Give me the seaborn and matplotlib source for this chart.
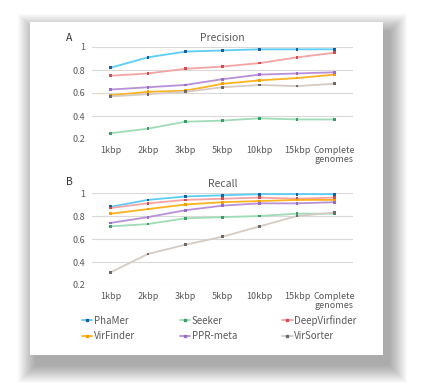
import matplotlib
matplotlib.use("Agg")
import matplotlib.pyplot as plt
from matplotlib.lines import Line2D
from matplotlib.patches import Rectangle
import pandas as pd
import seaborn as sns

# data
categories = ["1kbp", "2kbp", "3kbp", "5kbp", "10kbp", "15kbp", "Complete\ngenomes"]
tools = ["PhaMer", "Seeker", "DeepVirfinder", "VirFinder", "PPR-meta", "VirSorter"]

precision_phamer = [0.82, 0.91, 0.96, 0.97, 0.98, 0.98, 0.98]
precision_seeker = [0.25, 0.29, 0.35, 0.36, 0.38, 0.37, 0.37]
precision_deepvirfinder = [0.75, 0.77, 0.81, 0.83, 0.86, 0.91, 0.95]
precision_virfinder = [0.58, 0.61, 0.62, 0.68, 0.71, 0.73, 0.76]
precision_pprmeta = [0.63, 0.65, 0.67, 0.72, 0.76, 0.77, 0.78]
precision_virsorter = [0.57, 0.59, 0.61, 0.65, 0.67, 0.66, 0.68]

recall_phamer = [0.88, 0.94, 0.97, 0.98, 0.99, 0.99, 0.99]
recall_seeker = [0.71, 0.73, 0.78, 0.79, 0.80, 0.82, 0.82]
recall_deepvirfinder = [0.87, 0.91, 0.94, 0.95, 0.96, 0.95, 0.96]
recall_virfinder = [0.82, 0.86, 0.90, 0.92, 0.93, 0.94, 0.94]
recall_pprmeta = [0.74, 0.79, 0.85, 0.89, 0.91, 0.91, 0.92]
recall_virsorter = [0.31, 0.47, 0.55, 0.62, 0.71, 0.80, 0.83]

line_colors = ["#5ccdf6", "#9fdcb6", "#f5a3a3", "#ffb21f", "#b890d8", "#d6cbc3"]
marker_colors = ["#1f5c9e", "#3a9e68", "#d34c50", "#f5a000", "#9a6cc8", "#6b6b6b"]
TEXT = "#595959"

precision = [precision_phamer, precision_seeker, precision_deepvirfinder,
             precision_virfinder, precision_pprmeta, precision_virsorter]
recall = [recall_phamer, recall_seeker, recall_deepvirfinder,
          recall_virfinder, recall_pprmeta, recall_virsorter]


def to_frame(series):
    rows = []
    for tool, vals in zip(tools, series):
        for cat, v in zip(categories, vals):
            rows.append({"tool": tool, "length": cat, "value": v})
    return pd.DataFrame(rows)


sns.set_style("white")
plt.rcParams["font.family"] = ["Noto Sans CJK SC", "DejaVu Sans"]

fig = plt.figure(figsize=(4.22, 3.85), dpi=100)
W, H = 422, 385

# card with soft drop shadow, offset to the lower right
cx0, cy0, cx1, cy1 = 30, 22, 383, 355
for k in range(18, 0, -1):
    fig.patches.append(Rectangle(
        ((cx0 + 6 - k) / W, 1 - (cy1 + 10 + k) / H),
        (cx1 - cx0 + 2 * k) / W, (cy1 - cy0 + 2 * k) / H,
        transform=fig.transFigure, color="black", alpha=0.02, lw=0, zorder=0))
fig.patches.append(Rectangle((cx0 / W, 1 - cy1 / H), (cx1 - cx0) / W, (cy1 - cy0) / H,
                             transform=fig.transFigure, color="white", lw=0, zorder=1))

palette = dict(zip(tools, line_colors))
mpalette = dict(zip(tools, marker_colors))

panels = [
    (precision, "Precision", "A", [92 / W, 1 - 139 / H, 261 / W, 92 / H], 38),
    (recall, "Recall", "B", [92 / W, 1 - 285 / H, 261 / W, 92 / H], 182),
]

for series, title, letter, rect, letter_y in panels:
    ax = fig.add_axes(rect, zorder=2)
    ax.patch.set_alpha(0)
    df = to_frame(series)
    sns.lineplot(data=df, x="length", y="value", hue="tool", palette=palette,
                 lw=1.3, sort=False, legend=False, ax=ax, zorder=3)
    sns.scatterplot(data=df, x="length", y="value", hue="tool", palette=mpalette,
                    marker="s", s=4, linewidth=0, legend=False, ax=ax, zorder=4)
    ax.set_xlim(-0.5, 6.5)
    ax.set_ylim(0.2, 1.0)
    ax.set_yticks([0.2, 0.4, 0.6, 0.8, 1.0])
    ax.set_yticklabels(["0.2", "0.4", "0.6", "0.8", "1"])
    ax.grid(axis="y", color="#d9d9d9", lw=0.8)
    ax.set_axisbelow(True)
    for s in ax.spines.values():
        s.set_visible(False)
    ax.tick_params(length=0, labelsize=6.5, colors=TEXT, pad=5)
    ax.set_xlabel("")
    ax.set_ylabel("")
    for lab in ax.get_xticklabels():
        lab.set_linespacing(1.0)
    ax.set_title(title, fontsize=7.5, color=TEXT, pad=4)
    fig.text(69 / W, 1 - letter_y / H, letter, fontsize=7.5, color="#333333",
             ha="center", va="center", zorder=5)

# legend filled row by row like the reference (matplotlib fills by column)
order = [0, 3, 1, 4, 2, 5]
handles = [Line2D([], [], color=line_colors[i], lw=1.3, marker="s", markersize=2,
                  markerfacecolor=marker_colors[i], markeredgecolor=marker_colors[i])
           for i in order]
labels = [tools[i] for i in order]
leg = fig.legend(handles, labels, ncol=3, loc="upper left",
                 bbox_to_anchor=(73 / W, 1 - 306 / H), frameon=False,
                 fontsize=7, handlelength=1.1, handletextpad=0.15,
                 columnspacing=4.6, labelspacing=0.6)
for t in leg.get_texts():
    t.set_color(TEXT)
leg.set_zorder(5)

fig.savefig("out.png", dpi=100, facecolor="white")
